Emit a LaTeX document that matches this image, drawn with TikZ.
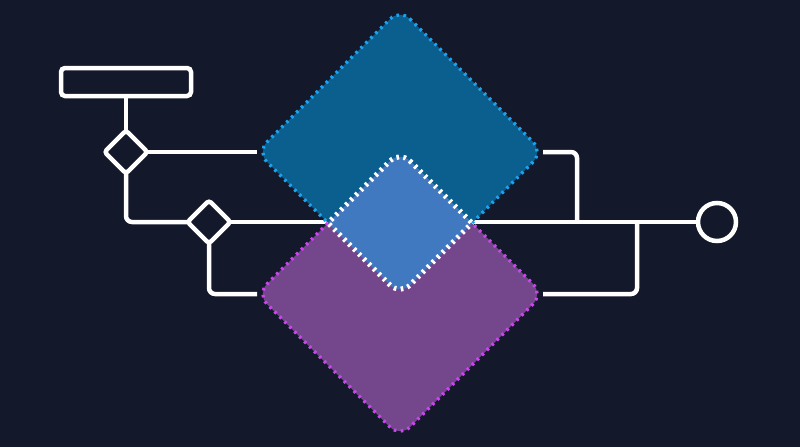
\documentclass[tikz,border=0pt]{standalone}
\usetikzlibrary{shapes.geometric}
\definecolor{bg}{HTML}{13182B}
\definecolor{bluefill}{HTML}{0B5F8E}
\definecolor{blueline}{HTML}{1CA3F0}
\definecolor{purplefill}{HTML}{74478D}
\definecolor{purpleline}{HTML}{CC44EE}
\definecolor{overfill}{HTML}{4179C1}
\begin{document}
\begin{tikzpicture}[x=1pt,y=-1pt,
  wire/.style={white, line width=4.5pt, rounded corners=6pt},
  boxnode/.style={draw=white, line width=4.5pt, rounded corners=4pt, inner sep=0pt, outer sep=0pt, minimum width=130pt, minimum height=28pt},
  gate/.style={draw=white, line width=4.5pt, diamond, aspect=1, rounded corners=3pt, inner sep=0pt, outer sep=0pt, minimum width=43pt, minimum height=43pt},
  endnode/.style={draw=white, line width=4.5pt, circle, inner sep=0pt, outer sep=0pt, minimum size=38pt},
  dotline/.style={line width=3.2pt, dash pattern=on 2.6pt off 4.4pt, rounded corners=14pt},
  bigd/.style={rounded corners=14pt}]
\fill[bg] (0,0) rectangle (800,447);
\useasboundingbox (0,0) rectangle (800,447);
% coordinates of the big diamonds
\coordinate (bT) at (400,9);  \coordinate (bR) at (543,152);
\coordinate (bB) at (400,295); \coordinate (bL) at (257,152);
\coordinate (pT) at (400,151); \coordinate (pR) at (543,294);
\coordinate (pB) at (400,437); \coordinate (pL) at (257,294);
\coordinate (j1) at (577,222); \coordinate (j2) at (637,222);
% nodes
\node[boxnode] (top) at (126,82) {};
\node[gate] (g1) at (126,152) {};
\node[gate] (g2) at (209,222) {};
\node[endnode] (end) at (717,222) {};
% wires
\draw[wire] (top.south) -- (g1.north);
\draw[wire] (g1.east) -- (bL);
\draw[wire] (g1.south) |- (g2.west);
\draw[wire] (g2.east) -- (end.west);
\draw[wire] (g2.south) |- (pL);
\draw[wire] (bR) -| (j1);
\draw[wire] (pR) -| (j2);
% fills
\fill[bluefill, bigd] (bT) -- (bR) -- (bB) -- (bL) -- cycle;
\fill[purplefill, bigd] (pT) -- (pR) -- (pB) -- (pL) -- cycle;
\begin{scope}
  \clip[bigd] (bT) -- (bR) -- (bB) -- (bL) -- cycle;
  \fill[overfill, bigd] (pT) -- (pR) -- (pB) -- (pL) -- cycle;
\end{scope}
% outer borders (reverse-direction clip leaves a hole)
\begin{scope}[bigd]
  \clip (-5,-5) -- (-5,452) -- (805,452) -- (805,-5) -- cycle (pT) -- (pR) -- (pB) -- (pL) -- cycle;
  \draw[blueline, dotline] (bT) -- (bR) -- (bB) -- (bL) -- cycle;
\end{scope}
\begin{scope}[bigd]
  \clip (-5,-5) -- (-5,452) -- (805,452) -- (805,-5) -- cycle (bT) -- (bR) -- (bB) -- (bL) -- cycle;
  \draw[purpleline, dotline] (pT) -- (pR) -- (pB) -- (pL) -- cycle;
\end{scope}
% overlap border
\begin{scope}
  \clip[bigd] (bT) -- (bR) -- (bB) -- (bL) -- cycle;
  \draw[white, dotline, line width=5pt] (pT) -- (pR) -- (pB) -- (pL) -- cycle;
\end{scope}
\begin{scope}
  \clip[bigd] (pT) -- (pR) -- (pB) -- (pL) -- cycle;
  \draw[white, dotline, line width=5pt] (bT) -- (bR) -- (bB) -- (bL) -- cycle;
\end{scope}
\end{tikzpicture}
\end{document}
